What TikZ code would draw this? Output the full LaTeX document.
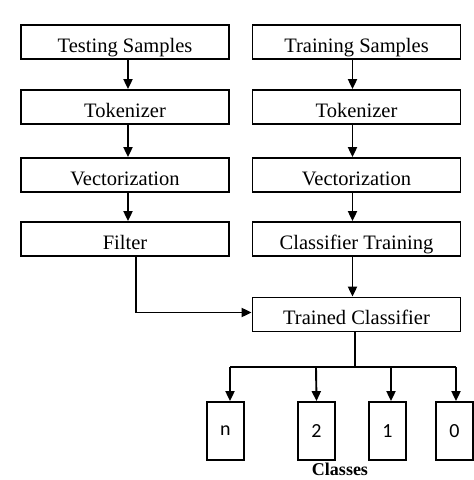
\documentclass[tikz,border=0pt]{standalone}
\usepackage{fontspec}
\setmainfont{Liberation Serif}
\newfontfamily\clsfont{Carlito}
\usetikzlibrary{arrows.meta}
\tikzset{
  procbox/.style={draw, line width=1.8pt, minimum width=208pt, minimum height=34pt, inner sep=0pt,
    font=\fontsize{20.5}{20.5}\selectfont, text height=20pt, text depth=0pt},
  classbox/.style={draw, line width=1.8pt, minimum width=37pt, minimum height=58pt, inner sep=0pt,
    font=\clsfont\fontsize{20}{20}\selectfont},
  flow/.style={line width=1.9pt, -{Triangle[length=10pt,width=9pt]}},
  plainline/.style={line width=1.9pt}
}
\begin{document}
\begin{tikzpicture}[x=1pt,y=-1pt]
\useasboundingbox (0,0) rectangle (474,480);
\node[procbox] (ts) at (125,42) {Testing Samples};
\node[procbox] (tk1) at (125,107) {Tokenizer};
\node[procbox] (vc1) at (125,175) {Vectorization};
\node[procbox] (fl) at (125,239) {Filter};
\node[procbox] (tr) at (356.5,42) {Training Samples};
\node[procbox] (tk2) at (356.5,107) {Tokenizer};
\node[procbox] (vc2) at (356.5,175) {Vectorization};
\node[procbox] (ct) at (356.5,239) {Classifier Training};
\node[procbox] (tc) at (356.5,314.5) {Trained Classifier};
\node[classbox] (cn) at (225.5,431) {n};
\node[classbox] (c2) at (316.5,431) {2};
\node[classbox] (c1) at (387.5,431) {1};
\node[classbox] (c0) at (454.5,431) {0};
\node[font=\bfseries\fontsize{18}{18}\selectfont, anchor=base, inner sep=0pt, text depth=0pt] (cl) at (340,475.5) {Classes};
\draw[flow] ([xshift=3pt]ts.south) -- ([xshift=3pt]tk1.north);
\draw[flow] ([xshift=3pt]tk1.south) -- ([xshift=3pt]vc1.north);
\draw[flow] ([xshift=3pt]vc1.south) -- ([xshift=3pt]fl.north);
\draw[flow] ([xshift=-4pt]tr.south) -- ([xshift=-4pt]tk2.north);
\draw[flow] ([xshift=-4pt]tk2.south) -- ([xshift=-4pt]vc2.north);
\draw[flow] ([xshift=-4pt]vc2.south) -- ([xshift=-4pt]ct.north);
\draw[flow] ([xshift=-4pt]ct.south) -- ([xshift=-4pt]tc.north);
\draw[flow] ([xshift=11pt]fl.south) |- ([yshift=2pt]tc.west);
\coordinate (br) at (355,367);
\draw[plainline] ([xshift=-1.5pt]tc.south) -- (br);
\draw[plainline] (230,367) -- (456,367);
\draw[flow] (230,367) -- (cn.north -| 230,0);
\draw[flow] (316,367) -- (c2.north);
\draw[flow] (391,367) -- (c1.north -| 391,0);
\draw[flow] (456,367) -- (c0.north -| 456,0);
\end{tikzpicture}
\end{document}
